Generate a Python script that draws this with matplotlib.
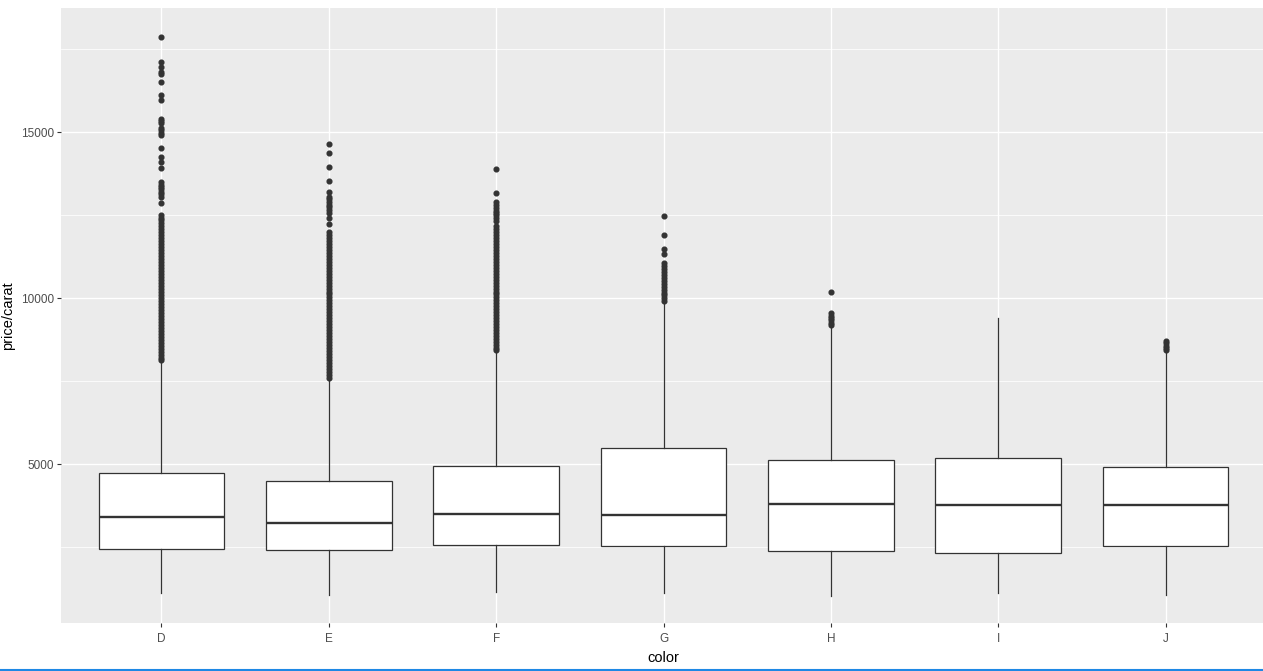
import matplotlib
matplotlib.use("Agg")
import matplotlib.pyplot as plt
from matplotlib.lines import Line2D

plt.rcParams['font.family'] = ['Liberation Sans', 'DejaVu Sans']

# ---------------- data ----------------
colors = ["D", "E", "F", "G", "H", "I", "J"]
q1 = [2451, 2412, 2570, 2532, 2382, 2322, 2532]
median = [3414, 3243, 3500, 3474, 3814, 3784, 3784]
q3 = [4729, 4488, 4945, 5481, 5120, 5181, 4910]
whisker_lo = [1136, 1067, 1150, 1136, 1046, 1136, 1076]
whisker_hi = [8133, 7581, 8434, 9905, 9187, 9394, 8434]

fliers_D = [17850, 17100, 16950, 16820, 16750, 16500, 16110, 15950, 15400, 15330,
            15270, 15120, 15050, 14980, 14900, 14510, 14260, 14090, 13930, 13500,
            13420, 13350, 13280, 13200, 13120, 13050, 12850, 12500, 12420, 12340,
            12260, 12170, 12080, 11990, 11900, 11810, 11720, 11630, 11540, 11450,
            11360, 11270, 11180, 11090, 11000, 10910, 10820, 10730, 10640, 10550,
            10460, 10370, 10280, 10190, 10100, 10010, 9920, 9830, 9740, 9650,
            9560, 9470, 9380, 9290, 9200, 9110, 9020, 8930, 8840, 8750,
            8660, 8570, 8480, 8390, 8300, 8210, 8150]
fliers_E = [14629, 14358, 13955, 13524, 13184, 13051, 12970, 12890, 12810, 12730,
            12650, 12551, 12400, 12229, 11997, 11910, 11820, 11730, 11640, 11545,
            11460, 11370, 11280, 11190, 11100, 11010, 10920, 10830, 10740, 10650,
            10560, 10470, 10380, 10290, 10200, 10110, 10020, 9930, 9840, 9750,
            9660, 9570, 9480, 9390, 9300, 9210, 9120, 9030, 8940, 8850,
            8760, 8670, 8580, 8490, 8400, 8310, 8220, 8130, 8040, 7950,
            7860, 7770, 7680, 7600]
fliers_F = [13876, 13154, 12882, 12800, 12720, 12630, 12551, 12500, 12410, 12320,
            12178, 12090, 12000, 11910, 11820, 11730, 11640, 11550, 11460, 11370,
            11280, 11190, 11100, 11010, 10920, 10830, 10740, 10650, 10560, 10470,
            10380, 10290, 10200, 10110, 10020, 9930, 9840, 9750, 9660, 9570,
            9480, 9390, 9300, 9210, 9120, 9030, 8940, 8850, 8760, 8670,
            8580, 8500, 8450]
fliers_G = [12460, 11888, 11466, 11316, 11063, 10980, 10890, 10800, 10710, 10620,
            10530, 10440, 10350, 10260, 10170, 10080, 9990, 9920]
fliers_H = [10200, 9539, 9470, 9400, 9330, 9260, 9200]
fliers_I = []
fliers_J = [8705, 8640, 8570, 8500, 8450]
fliers = [fliers_D, fliers_E, fliers_F, fliers_G, fliers_H, fliers_I, fliers_J]

y_ticks = [5000, 10000, 15000]
y_minor = [2500, 7500, 12500, 17500]

# ---------------- figure ----------------
W, H = 1263, 671
fig = plt.figure(figsize=(W / 100, H / 100), dpi=100)
ax = fig.add_axes([61 / W, (H - 623) / H, 1205 / W, 615 / H])

ax.set_facecolor("#EBEBEB")
for s in ax.spines.values():
    s.set_visible(False)

stats = []
for i, c in enumerate(colors):
    stats.append(dict(label=c, q1=q1[i], med=median[i], q3=q3[i],
                      whislo=whisker_lo[i], whishi=whisker_hi[i],
                      fliers=fliers[i]))

dark = "#333333"
positions = list(range(1, len(colors) + 1))
ax.bxp(stats, positions=positions, widths=0.75, patch_artist=True,
       showcaps=False,
       boxprops=dict(facecolor="white", edgecolor=dark, linewidth=0.9),
       medianprops=dict(color=dark, linewidth=1.7, solid_capstyle="butt"),
       whiskerprops=dict(color=dark, linewidth=0.9),
       flierprops=dict(marker="o", markerfacecolor=dark, markeredgecolor=dark,
                       markersize=3.4, linestyle="none"),
       zorder=3)

ax.set_xlim(0.4, 7.6)
ax.set_ylim(224, 18732)

ax.set_xticks(positions)
ax.set_xticklabels(colors)
ax.set_yticks(y_ticks)
ax.set_yticklabels([str(v) for v in y_ticks])
ax.set_yticks(y_minor, minor=True)

ax.grid(True, which="major", color="white", linewidth=1.0, zorder=0)
ax.grid(True, which="minor", axis="y", color="white", linewidth=0.55, zorder=0)
ax.set_axisbelow(True)

ax.tick_params(axis="both", which="major", length=2.7, width=0.8, color=dark,
               labelsize=8.45, labelcolor="#4D4D4D", pad=2.5)
ax.tick_params(axis="x", which="major", pad=4.5)
ax.tick_params(axis="y", which="minor", length=0)

ax.set_xlabel("color", fontsize=10.5, color="black", labelpad=4)
ax.set_ylabel("price/carat", fontsize=10.5, color="black", labelpad=4)

# bottom blue border line from the screenshot
fig.add_artist(Line2D([0, 1], [1.5 / H, 1.5 / H], color="#1E88E5", linewidth=1.5,
                      transform=fig.transFigure))

fig.savefig("out.png", dpi=100, facecolor="white")
